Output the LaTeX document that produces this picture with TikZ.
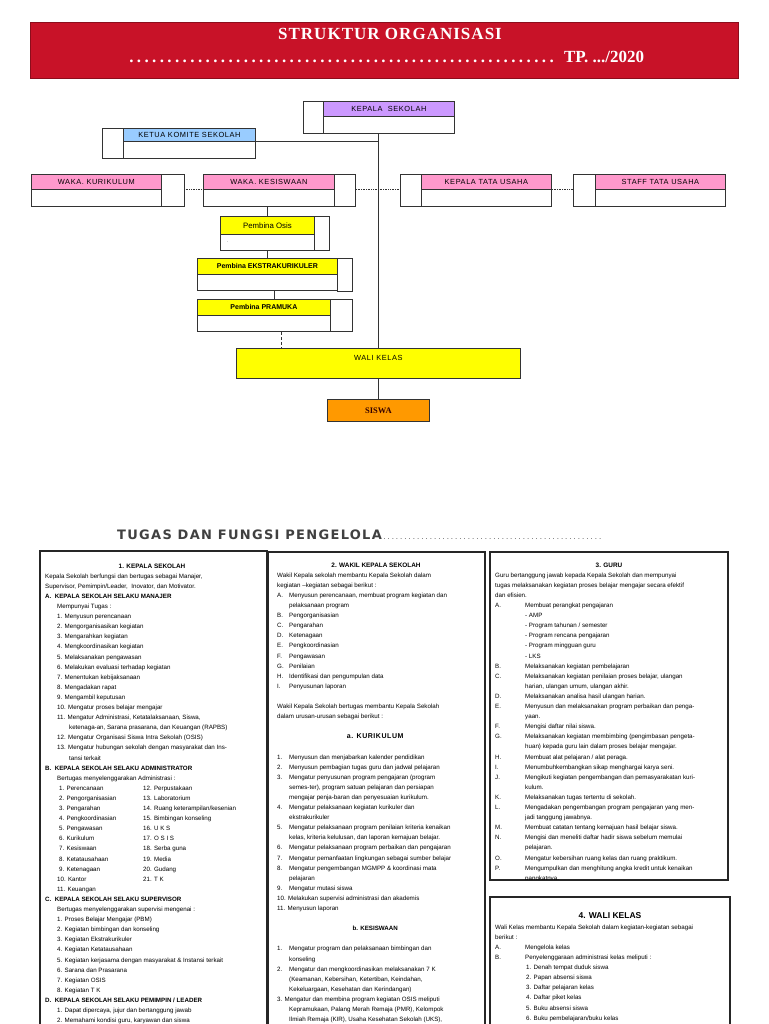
\documentclass[tikz,border=0pt]{standalone}
\usepackage{fontspec}
\setmainfont{Liberation Sans}
\newfontfamily\serifb{Liberation Serif}
\newfontfamily\serifw[LetterSpace=6]{Liberation Serif}
\newfontfamily\widef[LetterSpace=10]{DejaVu Sans}
\newfontfamily\spaced[LetterSpace=8]{Liberation Sans}
\definecolor{banner}{RGB}{200,18,40}
\definecolor{kpurple}{RGB}{204,153,255}
\definecolor{kblue}{RGB}{153,204,255}
\definecolor{kpink}{RGB}{255,153,204}
\definecolor{kyellow}{RGB}{255,255,0}
\definecolor{korange}{RGB}{255,153,0}
\newcommand{\body}{\fontsize{6.2}{10.1}\selectfont}
\newcommand{\dotsline}[2]{\makebox[#1pt]{\xleaders\hbox to #2pt{\hss.\hss}\hfill}}
\tikzset{
 cell/.style={draw=black!80,line width=0.8pt,inner sep=0pt,anchor=north west,font=\fontsize{6.2}{7}\selectfont},
 orgtxt/.style={font=\spaced\fontsize{7.4}{8}\selectfont},
 frame/.style={draw=black!85,line width=1.6pt},
 txt/.style={inner sep=0pt,anchor=north west,align=left,font=\body},
 link/.style={draw=black!80,line width=0.7pt},
}
\begin{document}
\begin{tikzpicture}[x=1pt,y=-1pt]
\useasboundingbox (0,0) rectangle (768,1024);
% banner
\node[fill=banner,draw=banner!70!black,minimum width=708pt,minimum height=56pt,anchor=north west,inner sep=0pt] (ban) at (30,22) {};
\node[text=white,font=\serifw\bfseries\fontsize{17}{19}\selectfont] (t1) at (390,34) {STRUKTUR ORGANISASI};
\node[text=white,font=\serifb\bfseries\fontsize{17}{19}\selectfont,anchor=west] (t2) at (124,57) {\dotsline{428}{7.6}\ \ TP. .../2020};
% org chart
\node[cell,minimum width=20pt,minimum height=32pt] (kst) at (303,101) {};
\node[cell,fill=kpurple,minimum width=131pt,minimum height=15pt,orgtxt] (ks) at (323,101) {KEPALA\ \ SEKOLAH};
\node[cell,minimum width=131pt,minimum height=17pt] (ksb) at (323,116) {};
\node[cell,minimum width=21pt,minimum height=30pt] (kkt) at (102,128) {};
\node[cell,fill=kblue,minimum width=132pt,minimum height=13pt,orgtxt] (kk) at (123,128) {KETUA KOMITE SEKOLAH};
\node[cell,minimum width=132pt,minimum height=17pt] (kkb) at (123,141) {};
% row
\node[cell,fill=kpink,minimum width=130pt,minimum height=15pt,orgtxt] (wk) at (31,174) {WAKA. KURIKULUM};
\node[cell,minimum width=130pt,minimum height=17pt] (wkb) at (31,189) {};
\node[cell,minimum width=23pt,minimum height=32pt] (wkt) at (161,174) {};
\node[cell,fill=kpink,minimum width=131pt,minimum height=15pt,orgtxt] (ws) at (203,174) {WAKA. KESISWAAN};
\node[cell,minimum width=131pt,minimum height=17pt] (wsb) at (203,189) {};
\node[cell,minimum width=21pt,minimum height=32pt] (wst) at (334,174) {};
\node[cell,minimum width=21pt,minimum height=32pt] (ktt) at (400,174) {};
\node[cell,fill=kpink,minimum width=130pt,minimum height=15pt,orgtxt] (kt) at (421,174) {KEPALA TATA USAHA};
\node[cell,minimum width=130pt,minimum height=17pt] (ktb) at (421,189) {};
\node[cell,minimum width=22pt,minimum height=32pt] (stt) at (573,174) {};
\node[cell,fill=kpink,minimum width=130pt,minimum height=15pt,orgtxt] (st) at (595,174) {STAFF TATA USAHA};
\node[cell,minimum width=130pt,minimum height=17pt] (stb) at (595,189) {};
% pembina
\node[cell,fill=kyellow,minimum width=94pt,minimum height=18pt,font=\fontsize{7.8}{8}\selectfont] (os) at (220,216) {Pembina Osis};
\node[cell,minimum width=94pt,minimum height=16pt,font=\fontsize{4}{5}\selectfont] (osb) at (220,234) {\hspace*{-80pt}.};
\node[cell,minimum width=15pt,minimum height=34pt] (ost) at (314,216) {};
\node[cell,fill=kyellow,minimum width=140pt,minimum height=16pt,font=\bfseries\fontsize{7}{8}\selectfont] (ek) at (197,258) {Pembina EKSTRAKURIKULER};
\node[cell,minimum width=140pt,minimum height=16pt] (ekb) at (197,274) {};
\node[cell,minimum width=15pt,minimum height=33pt] (ekt) at (337,258) {};
\node[cell,fill=kyellow,minimum width=133pt,minimum height=16pt,font=\bfseries\fontsize{7}{8}\selectfont] (pr) at (197,299) {Pembina PRAMUKA};
\node[cell,minimum width=133pt,minimum height=16pt] (prb) at (197,315) {};
\node[cell,minimum width=22pt,minimum height=32pt] (prt) at (330,299) {};
\node[cell,fill=kyellow,minimum width=284pt,minimum height=30pt] (wl) at (236,348) {};
\node[orgtxt,anchor=north] (wlt) at (wl.north) [yshift=-4pt] {WALI KELAS};
\node[cell,fill=korange,minimum width=102pt,minimum height=22pt,font=\serifb\bfseries\fontsize{8.5}{9}\selectfont,text=black!80!red] (sw) at (327,399) {SISWA};
% connectors
\draw[link] (ksb.south -| wl.north) -- (wl.north);
\draw[link] (kk.south east) -- (kk.south east -| wl.north);
\draw[link] (wl.south -| sw.north) -- (sw.north);
\draw[link,densely dotted] (wkt.west |- wkb.north) ++(23,0) -- (wsb.north west);
\draw[link,densely dotted] (wst.north east) ++(0,15) -- (ktb.north -| ktt.west);
\draw[link,densely dotted] (ktb.north east) -- (stb.north -| stt.west);
\draw[link] (wsb.south -| os.north) -- (os.north);
\draw[link] (osb.south) -- (ek.north);
\draw[link] ([xshift=7pt]ekb.south) -- ([xshift=7pt]ekb.south |- pr.north);
\draw[link,densely dashed] ([xshift=17pt]prb.south) -- ([xshift=17pt]prb.south |- wl.north);
% second title
\node[anchor=base west,inner sep=0pt,text=black!75,font=\widef\bfseries\fontsize{13}{15}\selectfont] (tg) at (117,539) {TUGAS DAN FUNGSI PENGELOLA};
\node[anchor=base west,inner sep=0pt,text=black!70,font=\fontsize{8}{9}\selectfont] (tgd) at (tg.base east) {\dotsline{220}{4.2}};
% frames
\draw[frame] (40,551) rectangle (267,1030);
\draw[frame] (268,552) rectangle (485,1030);
\draw[frame] (490,552) rectangle (728,880);
\draw[frame] (490,897) rectangle (730,1030);
% box 1
\node[inner sep=0pt,font=\bfseries\fontsize{6.4}{7}\selectfont,anchor=base] (h1) at (152,568) {1. KEPALA SEKOLAH};
\node[txt] (b1) at (45,573.5) {%
Kepala Sekolah berfungsi dan bertugas sebagai Manajer,\\
Supervisor, Pemimpin/Leader,\ \ Inovator, dan Motivator.\\
\textbf{A.\ \ KEPALA SEKOLAH SELAKU MANAJER}\\
\hspace*{12pt}Mempunyai Tugas :\\
\hspace*{12pt}1. Menyusun perencanaan\\
\hspace*{12pt}2. Mengorganisasikan kegiatan\\
\hspace*{12pt}3. Mengarahkan kegiatan\\
\hspace*{12pt}4. Mengkoordinasikan kegiatan\\
\hspace*{12pt}5. Melaksanakan pengawasan\\
\hspace*{12pt}6. Melakukan evaluasi terhadap kegiatan\\
\hspace*{12pt}7. Menentukan kebijaksanaan\\
\hspace*{12pt}8. Mengadakan rapat\\
\hspace*{12pt}9. Mengambil keputusan\\
\hspace*{12pt}10. Mengatur proses belajar mengajar\\
\hspace*{12pt}11. Mengatur Administrasi, Ketatalaksanaan, Siswa,\\
\hspace*{24pt}ketenaga-an, Sarana prasarana, dan Keuangan (RAPBS)\\
\hspace*{12pt}12. Mengatur Organisasi Siswa Intra Sekolah (OSIS)\\
\hspace*{12pt}13. Mengatur hubungan sekolah dengan masyarakat dan Ins-\\
\hspace*{24pt}tansi terkait\\
\textbf{B.\ \ KEPALA SEKOLAH SELAKU ADMINISTRATOR}\\
\hspace*{12pt}Bertugas menyelenggarakan Administrasi :\\
\hspace*{14pt}\makebox[84pt][l]{1. Perencanaan}12. Perpustakaan\\
\hspace*{14pt}\makebox[84pt][l]{2. Pengorganisasian}13. Laboratorium\\
\hspace*{14pt}\makebox[84pt][l]{3. Pengarahan}14. Ruang keterampilan/kesenian\\
\hspace*{14pt}\makebox[84pt][l]{4. Pengkoordinasian}15. Bimbingan konseling\\
\hspace*{14pt}\makebox[84pt][l]{5. Pengawasan}16. U K S\\
\hspace*{14pt}\makebox[84pt][l]{6. Kurikulum}17. O S I S\\
\hspace*{14pt}\makebox[84pt][l]{7. Kesiswaan}18. Serba guna\\
\hspace*{14pt}\makebox[84pt][l]{8. Ketatausahaan}19. Media\\
\hspace*{14pt}\makebox[84pt][l]{9. Ketenagaan}20. Gudang\\
\hspace*{12pt}\makebox[86pt][l]{10. Kantor}21. T K\\
\hspace*{12pt}11. Keuangan\\
\textbf{C.\ \ KEPALA SEKOLAH SELAKU SUPERVISOR}\\
\hspace*{12pt}Bertugas menyelenggarakan supervisi mengenai :\\
\hspace*{12pt}1. Proses Belajar Mengajar (PBM)\\
\hspace*{12pt}2. Kegiatan bimbingan dan konseling\\
\hspace*{12pt}3. Kegiatan Ekstrakurikuler\\
\hspace*{12pt}4. Kegiatan Ketatausahaan\\
\hspace*{12pt}5. Kegiatan kerjasama dengan masyarakat \& Instansi terkait\\
\hspace*{12pt}6. Sarana dan Prasarana\\
\hspace*{12pt}7. Kegiatan OSIS\\
\hspace*{12pt}8. Kegiatan T K\\
\textbf{D.\ \ KEPALA SEKOLAH SELAKU PEMIMPIN / LEADER}\\
\hspace*{12pt}1. Dapat dipercaya, jujur dan bertanggung jawab\\
\hspace*{12pt}2. Memahami kondisi guru, karyawan dan siswa};
% box 2
\node[inner sep=0pt,font=\bfseries\fontsize{6.4}{7}\selectfont,anchor=base] (h2) at (376,567) {2. WAKIL KEPALA SEKOLAH};
\node[txt] (b2) at (277,572.5) {%
Wakil Kepala sekolah membantu Kepala Sekolah dalam\\
kegiatan --kegiatan sebagai berikut :\\
\makebox[12pt][l]{A.}Menyusun perencanaan, membuat program kegiatan dan\\
\hspace*{12pt}pelaksanaan program\\
\makebox[12pt][l]{B.}Pengorganisasian\\
\makebox[12pt][l]{C.}Pengarahan\\
\makebox[12pt][l]{D.}Ketenagaan\\
\makebox[12pt][l]{E.}Pengkoordinasian\\
\makebox[12pt][l]{F.}Pengawasan\\
\makebox[12pt][l]{G.}Penilaian\\
\makebox[12pt][l]{H.}Identifikasi dan pengumpulan data\\
\makebox[12pt][l]{I.}Penyusunan laporan\\[10.1pt]
Wakil Kepala Sekolah bertugas membantu Kepala Sekolah\\
dalam urusan-urusan sebagai berikut :\\[10.1pt]
\makebox[196pt][c]{\spaced\bfseries\fontsize{7}{8}\selectfont a. KURIKULUM}\\[10.1pt]
\makebox[12pt][l]{1.}Menyusun dan menjabarkan kalender pendidikan\\
\makebox[12pt][l]{2.}Menyusun pembagian tugas guru dan jadwal pelajaran\\
\makebox[12pt][l]{3.}Mengatur penyusunan program pengajaran (program\\
\hspace*{12pt}semes-ter), program satuan pelajaran dan persiapan\\
\hspace*{12pt}mengajar penja-baran dan penyesuaian kurikulum.\\
\makebox[12pt][l]{4.}Mengatur pelaksanaan kegiatan kurikuler dan\\
\hspace*{12pt}ekstrakurikuler\\
\makebox[12pt][l]{5.}Mengatur pelaksanaan program penilaian kriteria kenaikan\\
\hspace*{12pt}kelas, kriteria kelulusan, dan laporan kemajuan belajar.\\
\makebox[12pt][l]{6.}Mengatur pelaksanaan program perbaikan dan pengajaran\\
\makebox[12pt][l]{7.}Mengatur pemanfaatan lingkungan sebagai sumber belajar\\
\makebox[12pt][l]{8.}Mengatur pengembangan MGMPP \& koordinasi mata\\
\hspace*{12pt}pelajaran\\
\makebox[12pt][l]{9.}Mengatur mutasi siswa\\
10. Melakukan supervisi administrasi dan akademis\\
11. Menyusun laporan\\[10.1pt]
\makebox[196pt][c]{\bfseries b. KESISWAAN}\\[10.1pt]
\makebox[12pt][l]{1.}Mengatur program dan pelaksanaan bimbingan dan\\
\hspace*{12pt}konseling\\
\makebox[12pt][l]{2.}Mengatur dan mengkoordinasikan melaksanakan 7 K\\
\hspace*{12pt}(Keamanan, Kebersihan, Ketertiban, Keindahan,\\
\hspace*{12pt}Kekeluargaan, Kesehatan dan Kerindangan)\\
3. Mengatur dan membina program kegiatan OSIS meliputi\\
\hspace*{12pt}Kepramukaan, Palang Merah Remaja (PMR), Kelompok\\
\hspace*{12pt}Ilmiah Remaja (KIR), Usaha Kesehatan Sekolah (UKS),\\
\hspace*{12pt}Patroli Keamanan Sekolah (PKS), Paskibra};
% box 3
\node[inner sep=0pt,font=\bfseries\fontsize{6.4}{7}\selectfont,anchor=base] (h3) at (609,567) {3. GURU};
\begin{scope}
\clip (491,553) rectangle (727,879);
\node[txt] (b3) at (495,572.5) {%
Guru bertanggung jawab kepada Kepala Sekolah dan mempunyai\\
tugas melaksanakan kegiatan proses belajar mengajar secara efektif\\
dan efisien.\\
\makebox[30pt][l]{A.}Membuat perangkat pengajaran\\
\hspace*{30pt}- AMP\\
\hspace*{30pt}- Program tahunan / semester\\
\hspace*{30pt}- Program rencana pengajaran\\
\hspace*{30pt}- Program mingguan guru\\
\hspace*{30pt}- LKS\\
\makebox[30pt][l]{B.}Melaksanakan kegiatan pembelajaran\\
\makebox[30pt][l]{C.}Melaksanakan kegiatan penilaian proses belajar, ulangan\\
\hspace*{30pt}harian, ulangan umum, ulangan akhir.\\
\makebox[30pt][l]{D.}Melaksanakan analisa hasil ulangan harian.\\
\makebox[30pt][l]{E.}Menyusun dan melaksanakan program perbaikan dan penga-\\
\hspace*{30pt}yaan.\\
\makebox[30pt][l]{F.}Mengisi daftar nilai siswa.\\
\makebox[30pt][l]{G.}Melaksanakan kegiatan membimbing (pengimbasan pengeta-\\
\hspace*{30pt}huan) kepada guru lain dalam proses belajar mengajar.\\
\makebox[30pt][l]{H.}Membuat alat pelajaran / alat peraga.\\
\makebox[30pt][l]{I.}Menumbuhkembangkan sikap menghargai karya seni.\\
\makebox[30pt][l]{J.}Mengikuti kegiatan pengembangan dan pemasyarakatan kuri-\\
\hspace*{30pt}kulum.\\
\makebox[30pt][l]{K.}Melaksanakan tugas tertentu di sekolah.\\
\makebox[30pt][l]{L.}Mengadakan pengembangan program pengajaran yang men-\\
\hspace*{30pt}jadi tanggung jawabnya.\\
\makebox[30pt][l]{M.}Membuat catatan tentang kemajuan hasil belajar siswa.\\
\makebox[30pt][l]{N.}Mengisi dan meneliti daftar hadir siswa sebelum memulai\\
\hspace*{30pt}pelajaran.\\
\makebox[30pt][l]{O.}Mengatur kebersihan ruang kelas dan ruang praktikum.\\
\makebox[30pt][l]{P.}Mengumpulkan dan menghitung angka kredit untuk kenaikan\\
\hspace*{30pt}pangkatnya.};
\end{scope}
% box 4
\node[inner sep=0pt,font=\bfseries\fontsize{8.5}{9}\selectfont,anchor=base] (h4) at (610,918) {4. WALI KELAS};
\node[txt] (b4) at (495,924.5) {%
Wali Kelas membantu Kepala Sekolah dalam kegiatan-kegiatan sebagai\\
berikut :\\
\makebox[30pt][l]{A.}Mengelola kelas\\
\makebox[30pt][l]{B.}Penyelenggaraan administrasi kelas meliputi :\\
\hspace*{31pt}1. Denah tempat duduk siswa\\
\hspace*{31pt}2. Papan absensi siswa\\
\hspace*{31pt}3. Daftar pelajaran kelas\\
\hspace*{31pt}4. Daftar piket kelas\\
\hspace*{31pt}5. Buku absensi siswa\\
\hspace*{31pt}6. Buku pembelajaran/buku kelas};
\end{tikzpicture}
\end{document}
